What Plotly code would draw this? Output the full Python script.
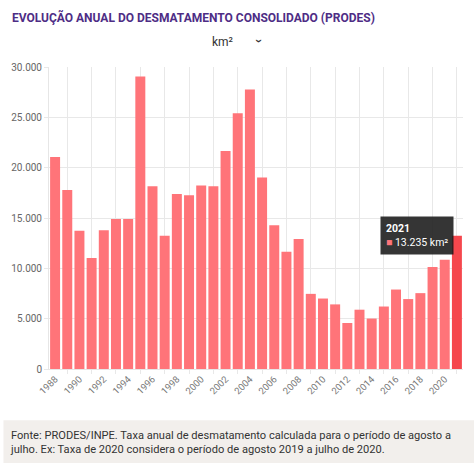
import plotly.graph_objects as go

# Annual deforestation (PRODES), km²
years = list(range(1988, 2022))
area_km2 = [21050, 17770, 13730, 11030, 13786, 14896, 14896, 29059, 18161, 13227,
            17383, 17259, 18226, 18165, 21651, 25396, 27772, 19014, 14286, 11651,
            12911, 7464, 7000, 6418, 4571, 5891, 5012, 6207, 7893, 6947,
            7536, 10129, 10851, 13235]

label_years = [y for y in years if y % 2 == 0]
grid_years = [y for y in years if y % 2 == 1]
y_ticks = [0, 5000, 10000, 15000, 20000, 25000, 30000]

highlight_year = 2021
bar_color = '#ff7479'
hl_color = '#f5474d'
colors = [hl_color if y == highlight_year else bar_color for y in years]

fig = go.Figure()

fig.add_trace(go.Bar(
    x=years, y=area_km2,
    marker=dict(color=colors, line=dict(width=0)),
    showlegend=False,
    hoverinfo='skip',
))

# invisible trace just to bring up the grid axis
fig.add_trace(go.Scatter(
    x=years, y=area_km2, xaxis='x2', mode='none',
    showlegend=False, hoverinfo='skip',
))

hl_value = area_km2[years.index(highlight_year)]

fig.update_layout(
    width=474, height=463,
    margin=dict(l=42, r=11, t=67, b=94),
    paper_bgcolor='white', plot_bgcolor='white',
    separators=',.',
    bargap=0.18,
    font=dict(family='Roboto, Arial, sans-serif', color='#666666', size=10),
    xaxis=dict(
        range=[1987.5, 2021.5],
        tickvals=label_years,
        ticktext=[str(y) for y in label_years],
        tickangle=-45,
        showgrid=False, zeroline=False,
        ticks='', tickfont=dict(size=9.5, color='#777777'),
        showline=True, linecolor='#e6e6e6', linewidth=1,
        mirror=False,
    ),
    xaxis2=dict(
        overlaying='x', matches='x', side='bottom',
        tickvals=grid_years, showticklabels=False,
        showgrid=True, gridcolor='#e8e8e8', gridwidth=1,
        ticks='outside', ticklen=4, tickcolor='#e8e8e8',
        zeroline=False,
    ),
    yaxis=dict(
        range=[0, 30000],
        tickvals=y_ticks,
        tickformat=',d',
        showgrid=True, gridcolor='#e8e8e8', gridwidth=1,
        zeroline=True, zerolinecolor='#e0e0e0', zerolinewidth=1,
        showline=True, linecolor='#e6e6e6',
        ticks='outside', ticklen=4, tickcolor='#e8e8e8',
        tickfont=dict(size=10, color='#666666'),
    ),
    shapes=[dict(
        type='rect', xref='paper', yref='paper',
        x0=-0.11, x1=1.03, y0=-0.32, y1=-0.17,
        fillcolor='#f2efec', line=dict(width=0), layer='below',
    )],
    annotations=[
        dict(
            text='<b>EVOLUÇÃO ANUAL DO DESMATAMENTO CONSOLIDADO (PRODES)</b>',
            xref='paper', yref='paper', x=-0.095, y=1.165,
            xanchor='left', yanchor='middle', showarrow=False,
            font=dict(family='Roboto, Arial, sans-serif', size=12, color='#4e2d85'),
        ),
        dict(
            text='km²', xref='paper', yref='paper', x=0.418, y=1.082,
            xanchor='center', yanchor='middle', showarrow=False,
            font=dict(size=12, color='#333333'),
        ),
        dict(
            text='<b>›</b>', xref='paper', yref='paper', x=0.51, y=1.086,
            xanchor='center', yanchor='middle', showarrow=False, textangle=90,
            font=dict(size=13, color='#333333'),
        ),
        dict(
            text=('<b>%d</b><br><span style="color:%s">■</span> %s km²'
                  % (highlight_year, bar_color, f'{hl_value:,}'.replace(',', '.'))),
            x=highlight_year, y=hl_value, xref='x', yref='y',
            xanchor='right', yanchor='middle', xshift=-3, showarrow=False,
            align='left', bgcolor='rgba(25,25,25,0.88)', borderpad=5,
            font=dict(size=10.5, color='white'),
        ),
        dict(
            text=('Fonte: PRODES/INPE. Taxa anual de desmatamento calculada para o período de agosto a'
                  '<br>julho. Ex: Taxa de 2020 considera o período de agosto 2019 a julho de 2020.'),
            xref='paper', yref='paper', x=-0.098, y=-0.245,
            xanchor='left', yanchor='middle', showarrow=False, align='left',
            font=dict(family='Roboto, Arial, sans-serif', size=11.1, color='#333333'),
        ),
    ],
)

fig.write_html("out.html", config={'displayModeBar': False},
               post_script="document.body.style.margin='0';")
